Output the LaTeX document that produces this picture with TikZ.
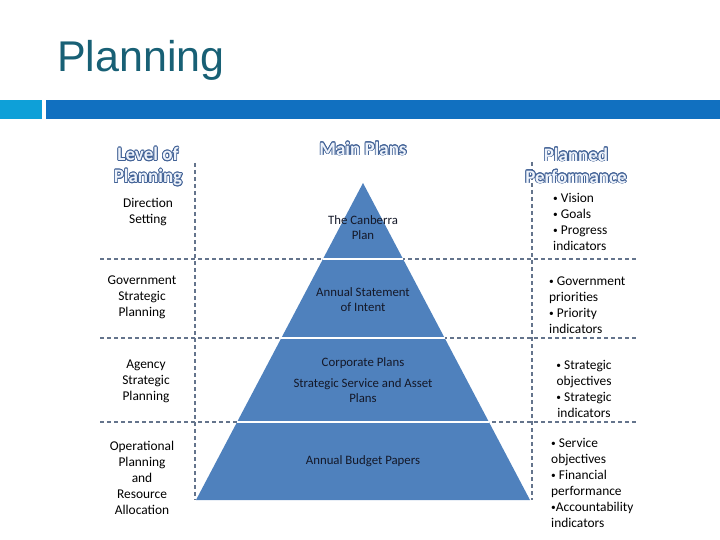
\documentclass[tikz,border=0pt]{standalone}
\usepackage{fontspec}
\setmainfont{Carlito}
\newfontfamily\titlefont{Liberation Sans}
\usepackage[copies]{contour}
\contourlength{0.75pt}
\usetikzlibrary{positioning, calc}

\definecolor{titleteal}{RGB}{24,96,117}
\definecolor{barlight}{RGB}{14,160,216}
\definecolor{bardark}{RGB}{17,112,192}
\definecolor{pyrblue}{RGB}{79,129,189}
\definecolor{gridgray}{RGB}{100,116,140}
\definecolor{headline}{RGB}{66,98,150}
\definecolor{headfill}{RGB}{238,243,251}
\definecolor{plantext}{RGB}{20,24,40}

\newcommand{\headtext}[1]{\textcolor{headfill}{\contour{headline}{#1}}}
\newcommand{\bul}{\raisebox{0.15ex}{\scalebox{0.7}{•}}}

\begin{document}
\begin{tikzpicture}[x=1pt, y=-1pt,
    lvl/.style={align=center, font=\fontsize{13.4}{16}\selectfont, inner sep=0},
    plan/.style={align=center, text=plantext, font=\fontsize{12.8}{15}\selectfont, inner sep=0},
    perf/.style={align=left, anchor=west, font=\fontsize{13.4}{16}\selectfont, inner sep=0},
    head/.style={align=center, font=\bfseries\fontsize{19}{22}\selectfont, inner sep=0},
    grid/.style={gridgray, dash pattern=on 4pt off 3pt, line width=1.2pt}
  ]
    \useasboundingbox (0,0) rectangle (720,540);

    % title and bar
    \node[anchor=base west, inner sep=0, text=titleteal,
          font=\titlefont\fontsize{43}{50}\selectfont] (title) at (57,72) {Planning};
    \fill[barlight] (0,100) rectangle (42,119);
    \fill[bardark] (46,100) rectangle (720,119);

    % dashed grid
    \foreach \y in {259,338,422}
      \draw[grid] (100,\y) -- (636,\y);
    \draw[grid] (195,163) -- (195,500);
    \draw[grid] (532,162) -- (532,500);

    % pyramid
    \coordinate (apex) at (363,183);
    \coordinate (bl) at (196,500);
    \coordinate (br) at (530,500);
    \fill[pyrblue] (apex) -- (bl) -- (br) -- cycle;
    \foreach \t in {0.2397,0.489,0.754}
      \draw[white, line width=1.2pt] ($(apex)!\t!(bl)$) -- ($(apex)!\t!(br)$);

    % headings
    \node[head] (lvlhead) at (148,167) {\headtext{Level of}\\\headtext{Planning}};
    \node[head] (planhead) at (363,149) {\headtext{Main Plans}};
    \node[head] (perfhead) at (576,166) {\headtext{Planned}\\\headtext{Performance}};

    % level of planning
    \node[lvl] (dir) at (148,212) {Direction\\Setting};
    \node[lvl] (gov) at (142,297) {Government\\Strategic\\Planning};
    \node[lvl] (agency) at (146,381) {Agency\\Strategic\\Planning};
    \node[lvl] (oper) at (142,478) {Operational\\Planning\\and\\Resource\\Allocation};

    % main plans
    \node[plan] (canberra) at (363,228) {The Canberra\\Plan};
    \node[plan] (asi) at (363,300) {Annual Statement\\of Intent};
    \node[plan] (corp) at (363,363) {Corporate Plans};
    \node[plan] (ssap) at (363,391) {Strategic Service and Asset\\Plans};
    \node[plan] (budget) at (363,461) {Annual Budget Papers};

    % planned performance
    \node[perf] (vision) at (553,222) {\bul{} Vision\\\bul{} Goals\\\bul{} Progress\\indicators};
    \node[perf] (prio) at (549,305) {\bul{} Government\\priorities\\\bul{} Priority\\indicators};
    \node[lvl] (strat) at (584,389) {\bul{} Strategic\\objectives\\\bul{} Strategic\\indicators};
    \node[perf] (serv) at (551,483) {\bul{} Service\\objectives\\\bul{} Financial\\performance\\\bul{}Accountability\\indicators};
  \end{tikzpicture}
\end{document}
